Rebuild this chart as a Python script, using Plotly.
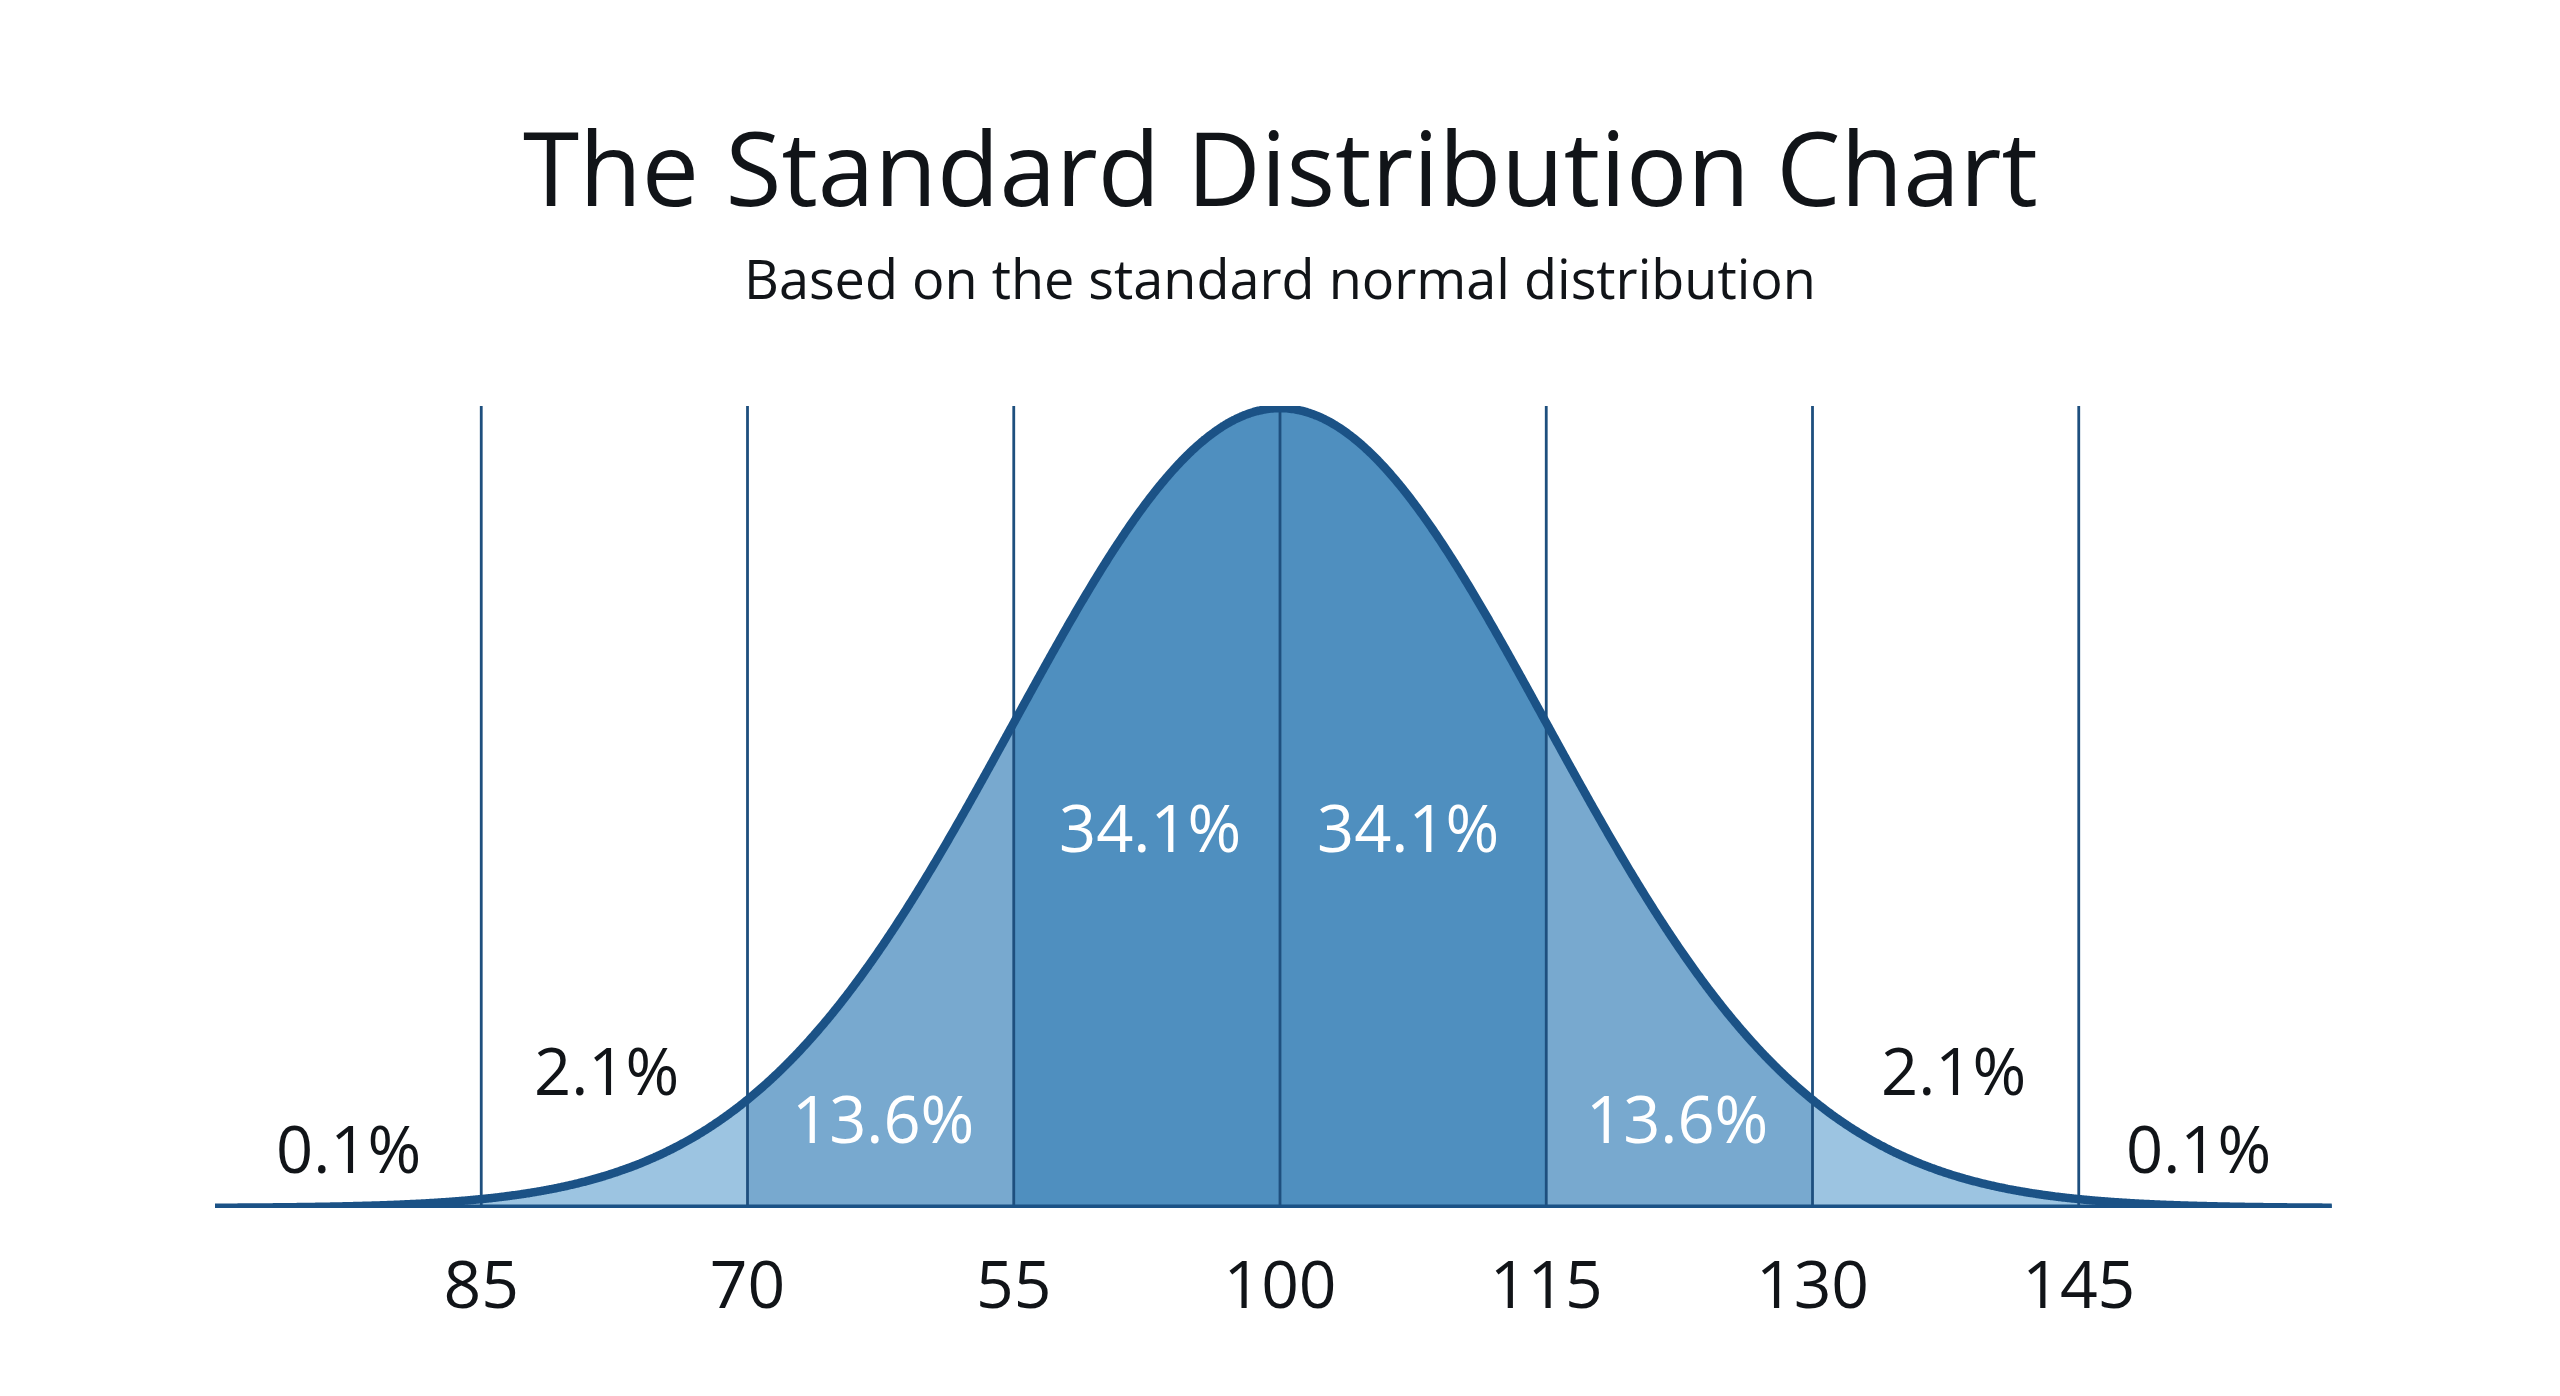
import numpy as np
import plotly.graph_objects as go

# ---- data ----
mean = 0.0
sd = 1.0
band_edges = [-4, -3, -2, -1, 0, 1, 2, 3, 3.95]
sd_lines = [-3, -2, -1, 0, 1, 2, 3]
tick_labels = ["85", "70", "55", "100", "115", "130", "145"]
pct_labels = ["0.1%", "2.1%", "13.6%", "34.1%", "34.1%", "13.6%", "2.1%", "0.1%"]

# ---- styling / layout constants ----
band_colors = ["#a6cbe5", "#9cc4e1", "#78a9cf", "#4f8fbf",
               "#4f8fbf", "#78a9cf", "#9cc4e1", "#a6cbe5"]
line_color = "#1b5286"
vline_color = "#1e4f7e"
dark_text = "#111418"
pct_x = [-3.5, -2.53, -1.49, -0.49, 0.48, 1.49, 2.53, 3.45]
pct_y = [0.030, 0.069, 0.045, 0.190, 0.190, 0.045, 0.069, 0.030]
pct_colors = [dark_text, dark_text, "white", "white", "white", "white", dark_text, dark_text]
FONT = "Open Sans"


def pdf(x):
    return np.exp(-0.5 * ((x - mean) / sd) ** 2) / (sd * np.sqrt(2 * np.pi))


fig = go.Figure()

# filled bands
for i in range(len(band_edges) - 1):
    a, b = band_edges[i], band_edges[i + 1]
    xs = np.linspace(a, b, 200)
    ys = pdf(xs)
    px = np.concatenate([[a], xs, [b]])
    py = np.concatenate([[0], ys, [0]])
    fig.add_trace(go.Scatter(x=px, y=py, fill="toself", fillcolor=band_colors[i],
                             line=dict(width=0), mode="lines", hoverinfo="skip",
                             showlegend=False))

# vertical SD lines
vx, vy = [], []
for s in sd_lines:
    vx += [s, s, None]
    vy += [0, 0.4015, None]
fig.add_trace(go.Scatter(x=vx, y=vy, mode="lines", line=dict(color=vline_color, width=2.8),
                         hoverinfo="skip", showlegend=False))

# baseline
fig.add_trace(go.Scatter(x=[band_edges[0], band_edges[-1]], y=[0, 0], mode="lines",
                         line=dict(color=line_color, width=7), hoverinfo="skip",
                         showlegend=False))

# curve
cx = np.linspace(band_edges[0], band_edges[-1], 1200)
fig.add_trace(go.Scatter(x=cx, y=pdf(cx), mode="lines",
                         line=dict(color=line_color, width=8.5, shape="spline"),
                         hoverinfo="skip", showlegend=False))

# percentage labels
for lab, x, y, c in zip(pct_labels, pct_x, pct_y, pct_colors):
    fig.add_annotation(x=x, y=y, xref="x", yref="y", text=lab, showarrow=False,
                       font=dict(family=FONT, size=65, color=c))

# title & subtitle
fig.add_annotation(x=0.5, y=1.2985, xref="paper", yref="paper", text="The Standard Distribution Chart",
                   showarrow=False, yanchor="middle", borderpad=0,
                   font=dict(family=FONT, size=102, color=dark_text))
fig.add_annotation(x=0.5, y=1.1595, xref="paper", yref="paper",
                   text="Based on the standard normal distribution",
                   showarrow=False, yanchor="middle", borderpad=0,
                   font=dict(family=FONT, size=54, color=dark_text))

fig.update_xaxes(range=[-4.0, 4.0], tickvals=sd_lines, ticktext=tick_labels,
                 showgrid=False, zeroline=False, showline=False, ticks="",
                 ticklabelstandoff=33,
                 tickfont=dict(family=FONT, size=66, color=dark_text))
fig.update_yaxes(range=[0, 0.4], visible=False, showgrid=False, zeroline=False)

fig.update_layout(width=2560, height=1396,
                  margin=dict(l=215, r=215, t=406, b=188),
                  paper_bgcolor="white", plot_bgcolor="white")

fig.write_html("out.html")
